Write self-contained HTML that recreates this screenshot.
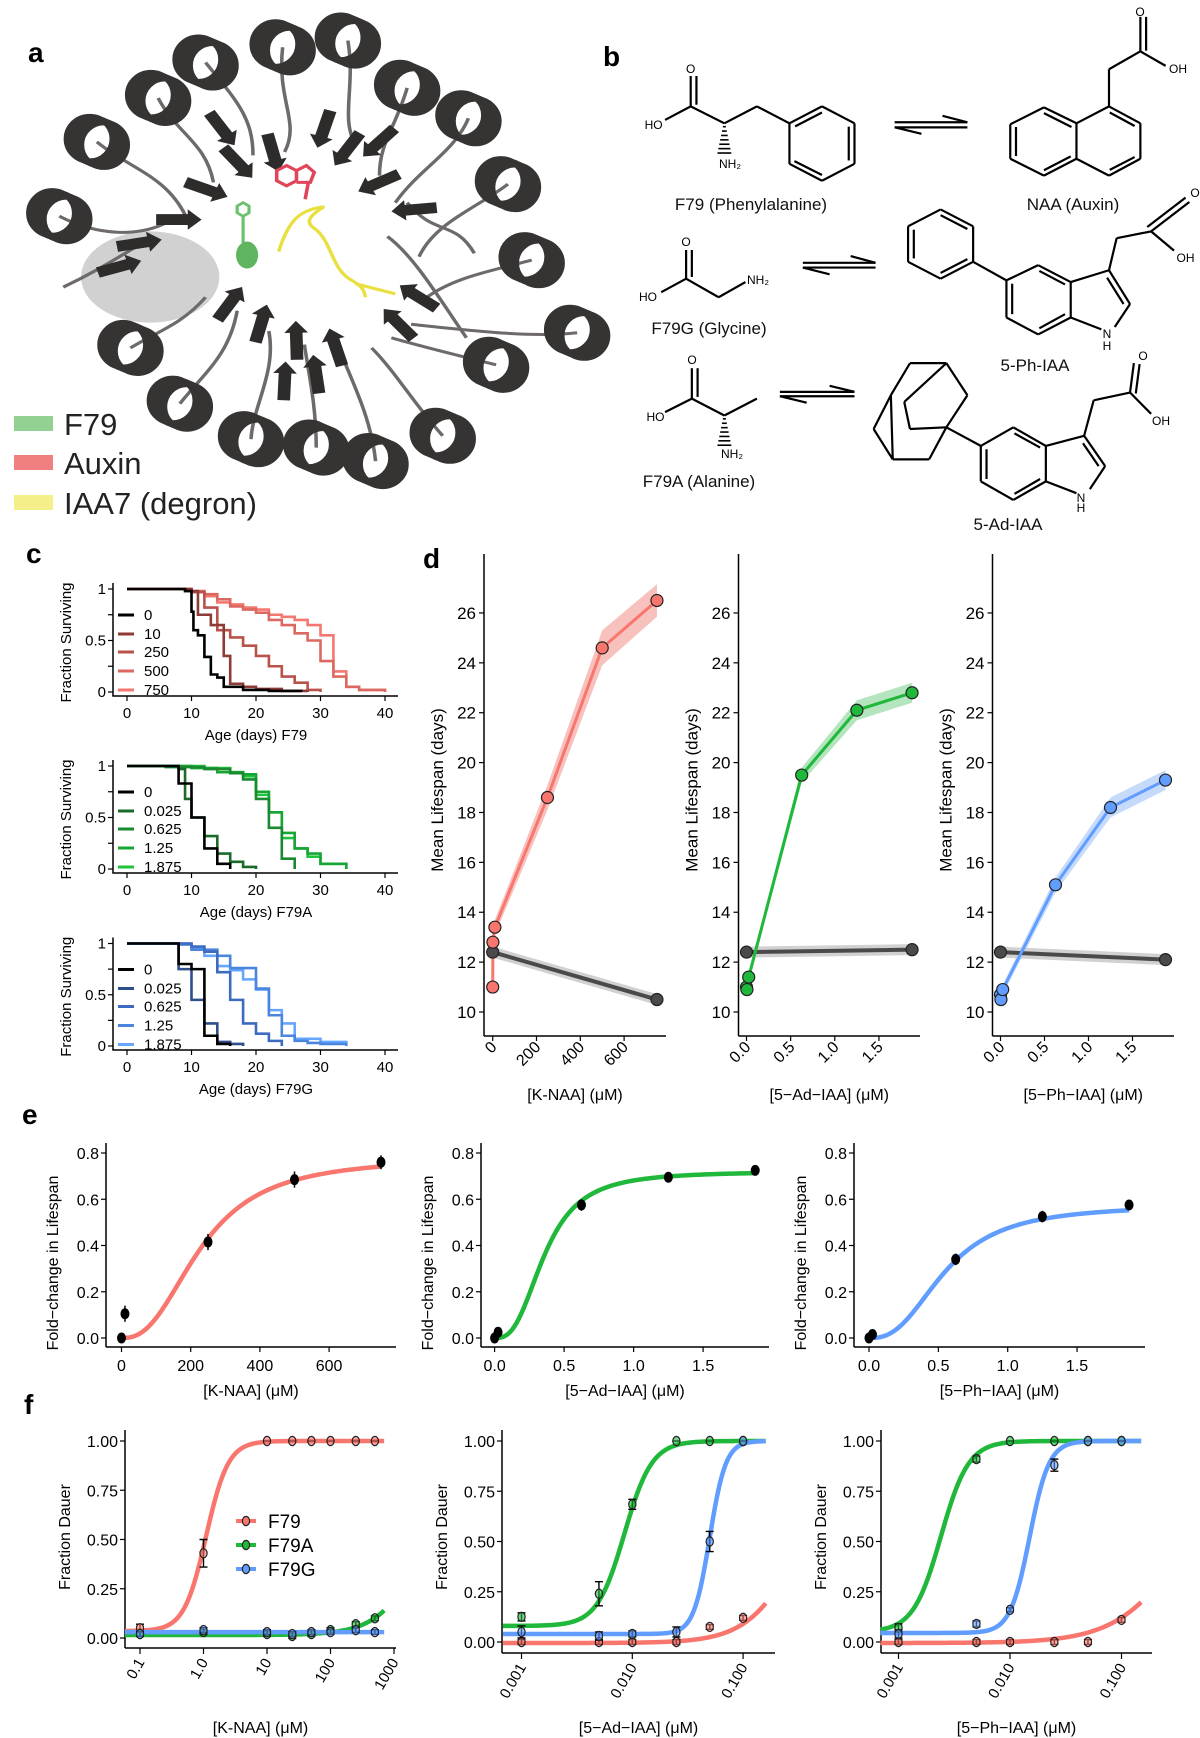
<!DOCTYPE html>
<html><head><meta charset="utf-8"><title>Figure</title>
<style>
html,body{margin:0;padding:0;background:#fff;}
svg{display:block;font-family:"Liberation Sans",Arial,sans-serif;}
</style></head>
<body>
<svg id="fig" xmlns="http://www.w3.org/2000/svg" width="1200" height="1738" viewBox="0 0 1200 1738"></svg>
<script>
// ---------- Panel c data (Kaplan-Meier curves) ----------
const cDayTicks=[0,10,20,30,40];
const cF79Doses=['0','10','250','500','750'];
const cF79Colors=['#000000','#8c3b36','#b9524b','#db6960','#f47870'];
const cF79Times=[[0,9,10,10.3,11,12,13,14,15,18,22,27],[0,10,11,13,15,16,18,20,24,28],[0,10,12,14,16,18,20,22,24,26,28,30],[0,9,12,14,16,18,20,22,24,26,28,30,32,34,36,40],[0,10,12,14,16,18,20,22,24,26,28,30,32,34,36,40]];
const cF79Surv=[[1,0.98,0.78,0.6,0.55,0.34,0.17,0.14,0.05,0.02,0.01,0],[1,0.98,0.75,0.65,0.35,0.08,0.05,0.03,0.01,0],[1,0.97,0.82,0.6,0.53,0.45,0.35,0.25,0.15,0.09,0.02,0],[1,0.98,0.95,0.9,0.83,0.8,0.77,0.7,0.65,0.57,0.5,0.3,0.15,0.05,0.02,0],[1,0.97,0.93,0.87,0.85,0.82,0.8,0.75,0.73,0.7,0.65,0.55,0.2,0.05,0.02,0]];
const cF79ADoses=['0','0.025','0.625','1.25','1.875'];
const cF79AColors=['#000000','#1a6b2a','#1a8a30','#17a535','#22c33c'];
const cF79ATimes=[[0,8,10,12,14,16],[0,8,9,10,12,14,16,18,20],[0,6,12,16,18,20,22,24,26],[0,10,14,18,20,22,24,26,28,30,34],[0,12,16,18,20,22,24,26,28,30,34]];
const cF79ASurv=[[1,0.83,0.5,0.2,0.05,0],[1,0.97,0.68,0.5,0.32,0.15,0.07,0.02,0],[1,0.99,0.97,0.93,0.87,0.68,0.4,0.1,0],[1,0.98,0.94,0.92,0.75,0.55,0.35,0.2,0.15,0.05,0],[1,0.98,0.94,0.9,0.72,0.55,0.3,0.2,0.12,0.05,0]];
const cF79GDoses=['0','0.025','0.625','1.25','1.875'];
const cF79GColors=['#000000','#2f4f8a','#3d6bc0','#4a86de','#66a6ff'];
const cF79GTimes=[[0,8,10,12,14,16],[0,8,10,12,14,16,18],[0,10,12,14,16,18,20,22,24],[0,8,10,14,16,20,22,24,26,28,30,34],[0,10,12,14,16,18,20,22,24,26,30,34]];
const cF79GSurv=[[1,0.8,0.75,0.1,0.02,0],[1,0.75,0.45,0.22,0.04,0.02,0],[1,0.97,0.92,0.72,0.45,0.22,0.12,0.05,0],[1,0.99,0.94,0.88,0.76,0.56,0.3,0.1,0.05,0.03,0.02,0],[1,0.96,0.88,0.78,0.74,0.65,0.55,0.35,0.22,0.07,0.04,0]];

// ---------- Panel d data ----------
const dYTicks=[10,12,14,16,18,20,22,24,26];
const dXTicks1=[0,200,400,600];
const dXTicks23=[0,0.5,1.0,1.5];
const dXTickLabels23=['0.0','0.5','1.0','1.5'];
const dNaaX=[0,1,10,250,500,750];
const dNaaY=[11.0,12.8,13.4,18.6,24.6,26.5];
const dNaaErr=[0.3,0.3,0.3,0.5,0.7,0.65];
const dNaaCtlX=[0,750];
const dNaaCtlY=[12.4,10.5];
const dAdX=[0,0.005,0.025,0.625,1.25,1.875];
const dAdY=[11.0,10.9,11.4,19.5,22.1,22.8];
const dAdErr=[0.2,0.2,0.2,0.3,0.4,0.4];
const dAdCtlX=[0,1.875];
const dAdCtlY=[12.4,12.5];
const dPhX=[0,0.005,0.025,0.625,1.25,1.875];
const dPhY=[10.7,10.5,10.9,15.1,18.2,19.3];
const dPhErr=[0.2,0.2,0.2,0.3,0.4,0.4];
const dPhCtlX=[0,1.875];
const dPhCtlY=[12.4,12.1];

// ---------- Panel e data ----------
const eYTicks=[0,0.2,0.4,0.6,0.8];
const eYTickLabels=['0.0','0.2','0.4','0.6','0.8'];
const eNaaX=[0,10,250,500,750];
const eNaaY=[0,0.105,0.415,0.685,0.76];
const eNaaErr=[0.01,0.035,0.035,0.035,0.03];
const eAdX=[0,0.025,0.625,1.25,1.875];
const eAdY=[0,0.025,0.575,0.695,0.725];
const eAdErr=[0.01,0.02,0.025,0.02,0.02];
const ePhX=[0,0.025,0.625,1.25,1.875];
const ePhY=[0,0.015,0.34,0.525,0.575];
const ePhErr=[0.01,0.02,0.025,0.025,0.02];
const eFitTop=[0.78,0.72,0.575];
const eFitEC=[230,0.36,0.55];
const eFitN=[2.5,2.8,2.6];

// ---------- Panel f data ----------
const fYTicks=[0,0.25,0.5,0.75,1];
const fYTickLabels=['0.00','0.25','0.50','0.75','1.00'];
const fNaaTicks=[0.1,1,10,100,1000];
const fNaaTickLabels=['0.1','1.0','10','100','1000'];
const fSmallTicks=[0.001,0.01,0.1];
const fSmallTickLabels=['0.001','0.010','0.100'];
const fNaaX=[0.1,1,10,25,50,100,250,500];
const fNaaF79=[0.05,0.43,1,1,1,1,1,1];
const fNaaF79Err=[0.02,0.07,0,0,0,0,0,0];
const fNaaF79A=[0.02,0.03,0.02,0.01,0.02,0.04,0.07,0.10];
const fNaaF79G=[0.02,0.04,0.03,0.02,0.03,0.03,0.04,0.03];
const fAdX=[0.001,0.005,0.01,0.025,0.05,0.1];
const fAdF79=[0,0,0,0,0.075,0.12];
const fAdF79A=[0.125,0.24,0.685,1,1,1];
const fAdF79AErr=[0.02,0.06,0.025,0,0,0];
const fAdF79G=[0.05,0.03,0.04,0.05,0.5,1];
const fAdF79GErr=[0.03,0.02,0.015,0.025,0.05,0];
const fPhX=[0.001,0.005,0.01,0.025,0.05,0.1];
const fPhF79=[0,0,0,0,0,0.11];
const fPhF79A=[0.07,0.91,1,1,1,1];
const fPhF79AErr=[0.02,0.015,0,0,0,0];
const fPhF79G=[0.04,0.09,0.16,0.88,1,1];
const fPhF79GErr=[0.02,0.015,0.01,0.03,0,0];
// fit parameters [bottom, EC, n] per chart & strain
const fFitNaa=[[0.035,1.1,2.5],[0.015,3500,1.2],[0.03,1e9,1]];
const fFitAd=[[-0.005,0.35,1.8],[0.08,0.0085,3.5],[0.04,0.05,6]];
const fFitPh=[[-0.005,0.4,1.4],[0.05,0.0024,3.5],[0.045,0.015,5]];

const RED='#f8766d', GREEN='#1fb83a', BLUE='#619cff';
const NS='http://www.w3.org/2000/svg';
const svg=document.getElementById('fig');
function mk(tag,attrs,parent){const e=document.createElementNS(NS,tag);for(const k in attrs)e.setAttribute(k,attrs[k]);(parent||svg).appendChild(e);return e;}
function txt(str,attrs,parent){const e=mk('text',attrs,parent);e.textContent=str;return e;}

// ---------------- Section labels ----------------
const secLabels=[['a',28,62],['b',603,66],['c',26,563],['d',423,568],['e',22,1124],['f',24,1414]];
secLabels.forEach(s=>{const t=txt(s[0],{x:s[1],y:s[2],'font-size':28,'font-weight':'bold'});

});

// ---------------- Panel a (protein) ----------------
const gA=mk('g',{transform:'scale(0.3953,0.3378)'});


const blob=mk('ellipse',{cx:380,cy:820,rx:175,ry:135,fill:'#9a9a9a','fill-opacity':0.45},gA);


const helices=[[520,185],[715,140],[880,120],[400,290],[245,420],[150,640],[1030,260],[1185,350],[1285,545],[1345,770],[1460,985],[1255,1080],[1120,1290],[950,1365],[800,1325],[635,1300],[455,1195],[330,1030]];
const loopPath='M520,185 C600,300 640,350 640,460 M715,140 C700,300 760,360 720,450 M880,120 C900,260 860,350 900,430 M400,290 C450,400 520,420 540,540 M245,420 C330,500 420,520 470,640 M1030,260 C1000,380 960,420 960,520 M1185,350 C1150,450 1060,500 1000,600 M1285,545 C1200,620 1100,660 1060,760 M1345,770 C1250,800 1150,820 1080,880 M1460,985 C1350,1000 1200,980 1040,960 M1255,1080 C1150,1050 1050,1020 990,1000 M1120,1290 C1050,1200 1000,1100 940,1030 M950,1365 C940,1250 900,1150 860,1040 M800,1325 C800,1200 780,1100 770,1020 M635,1300 C640,1200 700,1100 680,980 M455,1195 C520,1100 580,1050 600,920 M330,1030 C400,980 460,960 520,880 M160,850 C250,800 300,760 360,720 M150,640 C250,700 350,700 420,660 M1030,600 C1100,700 1150,650 1200,750 M980,700 C1050,760 1120,900 1180,1000';
const loops=mk('path',{d:loopPath,fill:'none',stroke:'#6e6a6a','stroke-width':9},gA);


helices.forEach(h=>{
  for(let k=0;k<4;k++){
    const el=mk('ellipse',{cx:h[0]+k*12-18,cy:h[1]+k*6-9,rx:58,ry:66,fill:'none',stroke:'#363333','stroke-width':16},gA);
    
    
  }
});
const strands=[[600,480],[520,560],[690,450],[880,440],[960,540],[1060,880],[1010,960],[850,1030],[750,1010],[660,960],[580,900],[450,650],[350,720],[300,790],[720,1130],[800,1110],[960,420],[1050,620],[560,380],[820,380]];
strands.forEach(s=>{
  const ang=Math.atan2(650-s[1],740-s[0])*180/Math.PI;
  const st=mk('polygon',{points:'-55,-16 25,-16 25,-30 60,0 25,30 25,16 -55,16',fill:'#2e2b2b',transform:`translate(${s[0]},${s[1]}) rotate(${ang})`},gA);
  
  
});
const aux=mk('path',{d:'M700,505 l25,-15 l25,15 l0,30 l-25,15 l-25,-15 z M750,505 l25,-15 l20,20 l-10,30 l-35,0 M780,540 l-8,50',fill:'none',stroke:'#e0455a','stroke-width':9},gA);


const f79s=mk('path',{d:'M600,610 l15,-10 l15,10 l0,20 l-15,10 l-15,-10 z M615,640 L615,720',fill:'none',stroke:'#6cc06c','stroke-width':8},gA);


const f79b=mk('ellipse',{cx:625,cy:755,rx:28,ry:40,fill:'#5fb55f'},gA);


const deg=mk('path',{d:'M705,745 C730,650 760,620 820,612 C780,640 770,660 800,680 C840,720 840,800 890,830 C920,850 920,860 925,880 M900,840 L1000,870',fill:'none',stroke:'#e8e040','stroke-width':9},gA);



const legA=[['F79','#93d193',416],['Auxin','#f08080',455],['IAA7 (degron)','#f5ef8a',495]];
legA.forEach(l=>{
  const r=mk('rect',{x:14,y:l[2],width:39,height:15,fill:l[1]});
  
  
  const t=txt(l[0],{x:64,y:l[2]+19,'font-size':31,fill:'#222'});
  
  
});

// ---------------- Panel b (chemistry) ----------------
const gB=mk('g',{transform:'translate(600,0) scale(0.3827,0.3378)',stroke:'#000',fill:'none'});


const bonds=[
[237,225,237,315],[252,225,252,310],[237,315,170,355],[237,315,325,365],[325,365,410,315],[410,315,495,365],
[495,365,580,315],[580,315,665,365],[665,365,665,485],[665,485,580,535],[580,535,495,485],[495,485,495,365],[510,374,580,333],[650,375,650,475],[580,518,508,477],
[770,362,960,362],[960,362,895,343],[770,377,960,377],[770,377,840,396],
[1330,315,1412,365],[1412,365,1412,470],[1412,470,1330,520],[1330,520,1245,470],[1245,470,1245,365],[1245,365,1330,315],
[1245,365,1160,318],[1160,318,1072,368],[1072,368,1072,470],[1072,470,1160,520],[1160,520,1245,470],
[1332,333,1397,373],[1397,465,1332,503],[1087,376,1087,462],[1160,504,1230,463],[1160,335,1232,376],
[1330,315,1330,205],[1330,205,1412,152],[1412,152,1412,50],[1427,150,1427,50],[1412,152,1478,195],
[225,740,225,825],[240,740,240,820],[225,825,160,865],[225,825,310,880],[310,880,380,835],
[530,778,720,778],[720,778,655,758],[530,792,720,792],[530,792,600,812],
[890,620,975,670],[975,670,975,775],[975,775,890,825],[890,825,805,775],[805,775,805,670],[805,670,890,620],[890,637,960,678],[960,767,890,808],[820,680,820,765],
[975,775,1062,830],[1062,830,1145,785],[1145,785,1230,835],[1230,835,1230,940],[1230,940,1145,990],[1145,990,1062,940],[1062,940,1062,830],[1148,802,1215,842],[1215,930,1148,972],[1077,840,1077,930],
[1230,835,1330,800],[1330,800,1385,900],[1385,900,1345,968],[1310,975,1230,940],[1325,822,1368,900],
[1330,800,1350,705],[1350,705,1440,685],[1440,685,1540,598],[1430,672,1530,585],[1440,685,1500,742],
[240,1090,240,1180],[255,1090,255,1175],[240,1180,170,1220],[240,1180,325,1230],[325,1230,410,1180],
[470,1160,665,1160],[665,1160,600,1142],[470,1173,665,1173],[470,1173,540,1192],
[810,1075,905,1075],[905,1075,960,1170],[960,1170,905,1265],[905,1265,860,1360],[860,1360,765,1360],[765,1360,715,1270],[715,1270,760,1170],[760,1170,810,1075],[905,1075,795,1190],[795,1190,810,1270],[810,1270,905,1265],[760,1170,765,1360],
[905,1265,995,1320],[995,1320,1080,1265],[1080,1265,1165,1320],[1165,1320,1165,1425],[1165,1425,1080,1480],[1080,1480,995,1425],[995,1425,995,1320],[1083,1283,1150,1325],[1150,1418,1083,1462],[1010,1330,1010,1418],
[1165,1320,1265,1290],[1265,1290,1320,1380],[1320,1380,1280,1448],[1245,1460,1165,1425],[1262,1312,1303,1380],
[1265,1290,1290,1185],[1290,1185,1385,1162],[1385,1162,1395,1075],[1400,1165,1410,1078],[1385,1162,1440,1225]];
bonds.forEach(b=>{const l=mk('line',{x1:b[0],y1:b[1],x2:b[2],y2:b[3],'stroke-width':2.2,'vector-effect':'non-scaling-stroke'},gB);

});
[[375,455],[1240,1320]].forEach(r=>{for(let y=r[0];y<=r[1];y+=13){const w=4+(y-r[0])*0.18;
const h=mk('line',{x1:325-w,y1:y,x2:325+w,y2:y,'stroke-width':1.6,'vector-effect':'non-scaling-stroke'},gB);

}});
const atoms=[['O',690.7,69],['HO',653.6,125],['NH\u2082',730,164],['O',1140,12],['OH',1178,69],['O',686,242],['HO',648,297],['NH\u2082',758,280],['O',1195,193],['OH',1185.5,258],['N',1107,334],['H',1107,346],['O',692,360],['HO',655.5,417],['NH\u2082',732,454],['O',1143,356],['OH',1161,421],['N',1081,498],['H',1081,508]];
atoms.forEach(a=>{const t=txt(a[0],{x:a[1],y:a[2]+4,'font-size':12,'text-anchor':'middle',fill:'#000'});

});
const cmpNames=[['F79 (Phenylalanine)',751,210],['NAA (Auxin)',1073,210],['F79G (Glycine)',709,334],['5-Ph-IAA',1035,371],['F79A (Alanine)',699,487],['5-Ad-IAA',1008,530]];
cmpNames.forEach(c=>{const t=txt(c[0],{x:c[1],y:c[2],'font-size':17,'text-anchor':'middle',fill:'#111'});

});

// ---------------- Panel c ----------------
const cCharts=[{y1:589,y0:692,title:'Age (days) F79',doses:cF79Doses,cols:cF79Colors,T:cF79Times,S:cF79Surv},
{y1:766,y0:869,title:'Age (days) F79A',doses:cF79ADoses,cols:cF79AColors,T:cF79ATimes,S:cF79ASurv},
{y1:943.5,y0:1046,title:'Age (days) F79G',doses:cF79GDoses,cols:cF79GColors,T:cF79GTimes,S:cF79GSurv}];
cCharts.forEach((c,ci)=>{
  const xs=t=>127+t*6.45, ys=s=>c.y0-s*(c.y0-c.y1);
  const g=mk('g',{});
  
  
  const ax=c.y0+4;
  const yl=mk('line',{x1:113,y1:c.y1-6,x2:113,y2:ax,stroke:'#000','stroke-width':1.5},g);
  
  
  const xl=mk('line',{x1:112.3,y1:ax,x2:398,y2:ax,stroke:'#000','stroke-width':1.5},g);
  
  
  [0,0.25,0.5,0.75,1].forEach(v=>{const tk=mk('line',{x1:108,y1:ys(v),x2:113,y2:ys(v),stroke:'#000','stroke-width':1.2},g);
    
    });
  [['0',0],['0.5',0.5],['1',1]].forEach(v=>{const t=txt(v[0],{x:106,y:ys(v[1])+5,'font-size':15,'text-anchor':'end'},g);
    
    });
  cDayTicks.forEach(d=>{const tk=mk('line',{x1:xs(d),y1:ax,x2:xs(d),y2:ax+5,stroke:'#000','stroke-width':1.2},g);
    
    
    const t=txt(String(d),{x:xs(d),y:ax+22,'font-size':15,'text-anchor':'middle'},g);
    
    });
  const tt=txt(c.title,{x:xs(20),y:ax+44,'font-size':15,'text-anchor':'middle'},g);
  
  
  const yt=txt('Fraction Surviving',{x:0,y:0,'font-size':15,'text-anchor':'middle',transform:`translate(71,${(c.y1+c.y0)/2+2}) rotate(-90)`},g);
  
  
  for(let k=c.T.length-1;k>=0;k--){
    const T=c.T[k],S=c.S[k];
    let d=`M${xs(T[0])},${ys(S[0])}`;
    for(let i=1;i<T.length;i++){d+=` H${xs(T[i])} V${ys(S[i])}`;}
    const p=mk('path',{d:d,fill:'none',stroke:c.cols[k],'stroke-width':2.6},g);
    
    
  }
  const offs=[26,45,63,82,101];
  c.doses.forEach((dname,k)=>{
    const y=c.y1+offs[k];
    const l=mk('line',{x1:118,y1:y,x2:134,y2:y,stroke:c.cols[k],'stroke-width':3},g);
    
    
    const t=txt(dname,{x:144,y:y+5,'font-size':15},g);
    
    
  });
});

// ---------------- Panel d ----------------
const dYs=v=>1012-(v-10)*24.94;
const dCharts=[{ax:484,x0:492.7,k:0.219,right:666,ticks:dXTicks1,tl:dXTicks1.map(String),X:dNaaX,Y:dNaaY,E:dNaaErr,CX:dNaaCtlX,CY:dNaaCtlY,col:RED,band:'#f5b3ae',title:'[K-NAA] (\u03bcM)'},
{ax:738.5,x0:746.5,k:88.3,right:920,ticks:dXTicks23,tl:dXTickLabels23,X:dAdX,Y:dAdY,E:dAdErr,CX:dAdCtlX,CY:dAdCtlY,col:GREEN,band:'#a3dfae',title:'[5\u2212Ad\u2212IAA] (\u03bcM)'},
{ax:992.5,x0:1000.5,k:88.0,right:1174,ticks:dXTicks23,tl:dXTickLabels23,X:dPhX,Y:dPhY,E:dPhErr,CX:dPhCtlX,CY:dPhCtlY,col:BLUE,band:'#b8d2fb',title:'[5\u2212Ph\u2212IAA] (\u03bcM)'}];
dCharts.forEach((c,ci)=>{
  const xs=v=>c.x0+v*c.k;
  const g=mk('g',{});
  
  
  const yl=mk('line',{x1:c.ax,y1:554,x2:c.ax,y2:1036,stroke:'#000','stroke-width':1.5},g);
  
  
  const xl=mk('line',{x1:c.ax,y1:1036,x2:c.right,y2:1036,stroke:'#000','stroke-width':1.5},g);
  
  
  dYTicks.forEach(v=>{const tk=mk('line',{x1:c.ax-5,y1:dYs(v),x2:c.ax,y2:dYs(v),stroke:'#000','stroke-width':1.2},g);
    
    
    const t=txt(String(v),{x:c.ax-8,y:dYs(v)+6,'font-size':17,'text-anchor':'end'},g);
    
    });
  c.ticks.forEach((v,i)=>{const tk=mk('line',{x1:xs(v),y1:1036,x2:xs(v),y2:1041,stroke:'#000','stroke-width':1.2},g);
    
    
    const t=txt(c.tl[i],{x:0,y:0,'font-size':16,'text-anchor':'end',transform:`translate(${xs(v)+5},${1048}) rotate(-45)`},g);
    
    });
  const tt=txt(c.title,{x:(c.ax+c.right)/2,y:1100,'font-size':16,'text-anchor':'middle'},g);
  
  
  const yt=txt('Mean Lifespan (days)',{x:0,y:0,'font-size':17,'text-anchor':'middle',transform:`translate(${c.ax-41},${790}) rotate(-90)`},g);
  
  
  let cb='';
  c.CX.forEach((x,i)=>{cb+=(i?' L':'M')+xs(x)+','+dYs(c.CY[i]+0.22);});
  for(let i=c.CX.length-1;i>=0;i--)cb+=' L'+xs(c.CX[i])+','+dYs(c.CY[i]-0.22);
  const cbp=mk('path',{d:cb+'Z',fill:'#bdbdbd','fill-opacity':0.7},g);
  
  
  let b='';
  c.X.forEach((x,i)=>{b+=(i?' L':'M')+xs(x)+','+dYs(c.Y[i]+c.E[i]);});
  for(let i=c.X.length-1;i>=0;i--)b+=' L'+xs(c.X[i])+','+dYs(c.Y[i]-c.E[i]);
  const bp=mk('path',{d:b+'Z',fill:c.band,'fill-opacity':0.8},g);
  
  
  const cl=mk('polyline',{points:c.CX.map((x,i)=>xs(x)+','+dYs(c.CY[i])).join(' '),fill:'none',stroke:'#4a4a4a','stroke-width':4},g);
  
  
  const tl=mk('polyline',{points:c.X.map((x,i)=>xs(x)+','+dYs(c.Y[i])).join(' '),fill:'none',stroke:c.col,'stroke-width':3},g);
  
  
  c.CX.forEach((x,i)=>{const p=mk('circle',{cx:xs(x),cy:dYs(c.CY[i]),r:6,fill:'#4a4a4a',stroke:'#222','stroke-width':1.2},g);
    
    });
  c.X.forEach((x,i)=>{const p=mk('circle',{cx:xs(x),cy:dYs(c.Y[i]),r:6,fill:c.col,stroke:'#222','stroke-width':1.2},g);
    
    });
});

// ---------------- Panel e ----------------
const eYs=v=>1338-v*231.25;
const eCharts=[{ax:106,x0:121.5,k:0.346,right:396,ticks:dXTicks1,tl:dXTicks1.map(String),X:eNaaX,Y:eNaaY,E:eNaaErr,col:RED,title:'[K-NAA] (\u03bcM)'},
{ax:481,x0:494.6,k:139,right:769,ticks:dXTicks23,tl:dXTickLabels23,X:eAdX,Y:eAdY,E:eAdErr,col:GREEN,title:'[5\u2212Ad\u2212IAA] (\u03bcM)'},
{ax:854,x0:869,k:138.7,right:1145,ticks:dXTicks23,tl:dXTickLabels23,X:ePhX,Y:ePhY,E:ePhErr,col:BLUE,title:'[5\u2212Ph\u2212IAA] (\u03bcM)'}];
eCharts.forEach((c,ci)=>{
  const xs=v=>c.x0+v*c.k;
  const g=mk('g',{});
  
  
  const yl=mk('line',{x1:c.ax,y1:1143,x2:c.ax,y2:1347,stroke:'#000','stroke-width':1.5},g);
  
  
  const xl=mk('line',{x1:c.ax,y1:1347,x2:c.right,y2:1347,stroke:'#000','stroke-width':1.5},g);
  
  
  eYTicks.forEach((v,i)=>{const tk=mk('line',{x1:c.ax-5,y1:eYs(v),x2:c.ax,y2:eYs(v),stroke:'#000','stroke-width':1.2},g);
    
    
    const t=txt(eYTickLabels[i],{x:c.ax-7,y:eYs(v)+6,'font-size':16,'text-anchor':'end'},g);
    
    });
  c.ticks.forEach((v,i)=>{const tk=mk('line',{x1:xs(v),y1:1347,x2:xs(v),y2:1352,stroke:'#000','stroke-width':1.2},g);
    
    
    const t=txt(c.tl[i],{x:xs(v),y:1371,'font-size':16,'text-anchor':'middle'},g);
    
    });
  const tt=txt(c.title,{x:(c.ax+c.right)/2,y:1396,'font-size':16,'text-anchor':'middle'},g);
  
  
  const yt=txt('Fold\u2212change in Lifespan',{x:0,y:0,'font-size':16,'text-anchor':'middle',transform:`translate(${c.ax-48},1263) rotate(-90)`},g);
  
  
  const xmax=c.X[c.X.length-1];
  let d='';
  for(let i=0;i<=120;i++){const x=xmax*i/120;const y=x<=0?0:eFitTop[ci]*Math.pow(x,eFitN[ci])/(Math.pow(eFitEC[ci],eFitN[ci])+Math.pow(x,eFitN[ci]));d+=(i?' L':'M')+xs(x).toFixed(2)+','+eYs(y).toFixed(2);}
  const fit=mk('path',{d:d,fill:'none',stroke:c.col,'stroke-width':4.5},g);
  
  
  c.X.forEach((x,i)=>{
    const eb=mk('line',{x1:xs(x),y1:eYs(c.Y[i]+c.E[i]),x2:xs(x),y2:eYs(c.Y[i]-c.E[i]),stroke:'#000','stroke-width':1.5},g);
    
    
    const p=mk('ellipse',{cx:xs(x),cy:eYs(c.Y[i]),rx:4.5,ry:5.5,fill:'#000'},g);
    
    
  });
});

// ---------------- Panel f ----------------
const fCharts=[{ax:125,x0:140,dec:63.5,lo:-1,right:396,xline:1648,y0:1638,y1:1441,ticks:fNaaTicks,tl:fNaaTickLabels,X:fNaaX,S:[fNaaF79,fNaaF79A,fNaaF79G],E:[fNaaF79Err,null,null],fit:fFitNaa,dom:[0.058,700],title:'[K-NAA] (\u03bcM)'},
{ax:502,x0:521.5,dec:110.8,lo:-3,right:775,xline:1653,y0:1642,y1:1441,ticks:fSmallTicks,tl:fSmallTickLabels,X:fAdX,S:[fAdF79,fAdF79A,fAdF79G],E:[null,fAdF79AErr,fAdF79GErr],fit:fFitAd,dom:[0.00068,0.16],title:'[5\u2212Ad\u2212IAA] (\u03bcM)'},
{ax:881,x0:898.5,dec:111.5,lo:-3,right:1152,xline:1653,y0:1642,y1:1441,ticks:fSmallTicks,tl:fSmallTickLabels,X:fPhX,S:[fPhF79,fPhF79A,fPhF79G],E:[null,fPhF79AErr,fPhF79GErr],fit:fFitPh,dom:[0.00069,0.15],title:'[5\u2212Ph\u2212IAA] (\u03bcM)'}];
const fCols=[RED,GREEN,BLUE];
const fStrains=['F79','F79A','F79G'];
fCharts.forEach((c,ci)=>{
  const xs=v=>c.x0+(Math.log10(v)-c.lo)*c.dec;
  const ys=v=>c.y0-v*(c.y0-c.y1);
  const g=mk('g',{});
  
  
  const yl=mk('line',{x1:c.ax,y1:1430,x2:c.ax,y2:c.xline,stroke:'#000','stroke-width':1.5},g);
  
  
  const xl=mk('line',{x1:c.ax,y1:c.xline,x2:c.right,y2:c.xline,stroke:'#000','stroke-width':1.5},g);
  
  
  fYTicks.forEach((v,i)=>{const tk=mk('line',{x1:c.ax-5,y1:ys(v),x2:c.ax,y2:ys(v),stroke:'#000','stroke-width':1.2},g);
    
    
    const t=txt(fYTickLabels[i],{x:c.ax-7,y:ys(v)+6,'font-size':16,'text-anchor':'end'},g);
    
    });
  c.ticks.forEach((v,i)=>{const tk=mk('line',{x1:xs(v),y1:c.xline,x2:xs(v),y2:c.xline+6,stroke:'#000','stroke-width':1.2},g);
    
    
    const t=txt(c.tl[i],{x:0,y:0,'font-size':15,'text-anchor':'end',transform:`translate(${xs(v)+5},${c.xline+14}) rotate(-60)`},g);
    
    });
  const tt=txt(c.title,{x:(c.ax+c.right)/2,y:1733,'font-size':16,'text-anchor':'middle'},g);
  
  
  const yt=txt('Fraction Dauer',{x:0,y:0,'font-size':16,'text-anchor':'middle',transform:`translate(${c.ax-55},1537) rotate(-90)`},g);
  
  
  [0,1,2].forEach(s=>{
    const pr=c.fit[s];
    let d='';
    const l0=Math.log10(c.dom[0]),l1=Math.log10(c.dom[1]);
    for(let i=0;i<=150;i++){const lx=l0+(l1-l0)*i/150;const x=Math.pow(10,lx);const y=pr[0]+(1-pr[0])/(1+Math.pow(pr[1]/x,pr[2]));d+=(i?' L':'M')+xs(x).toFixed(2)+','+ys(y).toFixed(2);}
    const fit=mk('path',{d:d,fill:'none',stroke:fCols[s],'stroke-width':4.5},g);
    
    
  });
  [0,1,2].forEach(s=>{
    c.X.forEach((x,i)=>{
      const v=c.S[s][i];
      const e=c.E[s]?c.E[s][i]:0.012;
      const eb=mk('path',{d:`M${xs(x)},${ys(v+e)} V${ys(v-e)} M${xs(x)-4},${ys(v+e)} h8 M${xs(x)-4},${ys(v-e)} h8`,stroke:'#000','stroke-width':1.4,fill:'none'},g);
      
      
      const p=mk('ellipse',{cx:xs(x),cy:ys(v),rx:3.6,ry:4.6,fill:fCols[s],'fill-opacity':0.6,stroke:'#222','stroke-width':1.2},g);
      
      
    });
  });
  if(ci===0){
    const lg=mk('g',{},g);
    
    
    [1521,1545,1569].forEach((y,s)=>{
      const l=mk('line',{x1:236,y1:y,x2:256,y2:y,stroke:fCols[s],'stroke-width':4},lg);
      
      
      const p=mk('ellipse',{cx:246,cy:y,rx:3.6,ry:4.6,fill:fCols[s],stroke:'#222','stroke-width':1.2},lg);
      
      
      const t=txt(fStrains[s],{x:268,y:y+7,'font-size':19},lg);
      
      
    });
  }
});
</script>
</body></html>
